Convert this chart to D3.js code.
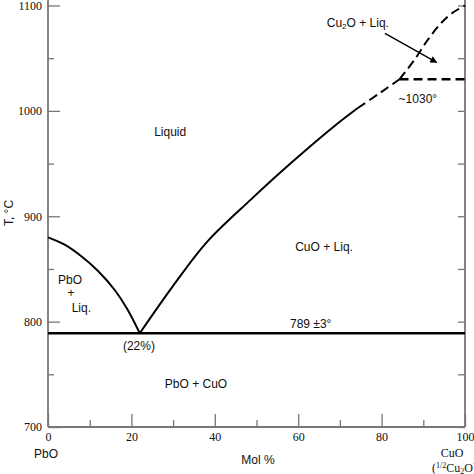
<!DOCTYPE html>
<html>
<head>
<meta charset="utf-8">
<script src="https://cdn.jsdelivr.net/npm/d3@7"></script>
<style>
  body { margin: 0; background: #fff; }
  svg { display: block; }
  .lbl { font-family: "Liberation Sans", Arial, sans-serif; font-size: 12px; fill: #111; }
</style>
</head>
<body>
<div id="chart"></div>
<script>
// PbO - CuO phase diagram

var xMajor = [0, 20, 40, 60, 80, 100];
var xMinor = [10, 30, 50, 70, 90];
var yMajor = [700, 800, 900, 1000, 1100];
var yMinor = [750, 850, 950, 1050];

// liquidus on the PbO side
var pboLiquidus = [[0, 880], [4, 873], [8, 862], [12, 848], [16, 830], [19, 812], [22, 789]];
// liquidus on the CuO side (solid part, then dashed part)
var cuoLiquidus = [[22, 789], [30, 834], [38.1, 875.5], [48.7, 916], [58, 949.5], [69.3, 987.5], [74.3, 1002.7]];
var cuoLiquidusDashed = [[74.3, 1002.7], [79.6, 1017], [84.3, 1030]];
// Cu2O liquidus (dashed)
var cu2oLiquidus = [[84.3, 1030], [87.8, 1048], [91, 1067], [94.2, 1083], [97, 1093], [100, 1100]];
var peritectic = [[84.3, 1030], [100, 1030]];
var eutectic = [[0, 789], [100, 789]];
var arrow = [[80.8, 1073.5], [93.2, 1046]];

var width = 474, height = 474;
var margin = {left: 48, right: 9, top: 5.5, bottom: 47};

var svg = d3.select('#chart').append('svg')
    .attr('width', width)
    .attr('height', height);

var x = d3.scaleLinear().domain([0, 100]).range([margin.left, width - margin.right]);
var y = d3.scaleLinear().domain([700, 1100]).range([height - margin.bottom, margin.top]);

var axisColor = '#777';
var serif = '"Liberation Serif", "Times New Roman", serif';

// axes, ticks pointing inward
function styleAxis(g) {
  g.attr('font-family', serif).attr('font-size', 12);
  g.select('.domain').remove();
  g.selectAll('.tick line').attr('stroke', axisColor).attr('stroke-width', 1.3);
  g.selectAll('.tick text').attr('fill', '#111').style('font-family', serif);
}

svg.append('g')
    .attr('transform', `translate(${x(0)},0)`)
    .call(d3.axisLeft(y).tickValues(yMajor).tickSize(-12).tickPadding(6).tickFormat(d3.format('d')))
    .call(styleAxis);
svg.append('g')
    .attr('transform', `translate(${x(0)},0)`)
    .call(d3.axisLeft(y).tickValues(yMinor).tickSize(-6).tickFormat(''))
    .call(styleAxis);
svg.append('g')
    .attr('transform', `translate(${x(100)},0)`)
    .call(d3.axisRight(y).tickValues(yMajor.concat(yMinor)).tickSize(-7).tickFormat(''))
    .call(styleAxis);
svg.append('g')
    .attr('transform', `translate(0,${y(700)})`)
    .call(d3.axisBottom(x).tickValues(xMajor).tickSize(-13).tickPadding(5).tickFormat(d3.format('d')))
    .call(styleAxis);
svg.append('g')
    .attr('transform', `translate(0,${y(700)})`)
    .call(d3.axisBottom(x).tickValues(xMinor).tickSize(-7).tickFormat(''))
    .call(styleAxis);

// frame lines
svg.append('line').attr('x1', x(0)).attr('x2', x(0)).attr('y1', 0).attr('y2', y(700))
    .attr('stroke', axisColor).attr('stroke-width', 1.8);
svg.append('line').attr('x1', x(100)).attr('x2', x(100)).attr('y1', 0).attr('y2', y(700))
    .attr('stroke', axisColor).attr('stroke-width', 1.8);
svg.append('line').attr('x1', x(0)).attr('x2', x(100)).attr('y1', y(700)).attr('y2', y(700))
    .attr('stroke', axisColor).attr('stroke-width', 1.8);

var line = d3.line().x(d => x(d[0])).y(d => y(d[1])).curve(d3.curveCatmullRom);
var straight = d3.line().x(d => x(d[0])).y(d => y(d[1]));

function drawPath(data, gen, w, dash) {
  svg.append('path')
      .datum(data)
      .attr('d', gen)
      .attr('fill', 'none')
      .attr('stroke', '#000')
      .attr('stroke-width', w)
      .attr('stroke-dasharray', dash || null);
}

drawPath(eutectic, straight, 2.4);
drawPath(pboLiquidus, line, 2);
drawPath(cuoLiquidus, line, 2);
drawPath(cuoLiquidusDashed, line, 2, '9,5');
drawPath(cu2oLiquidus, line, 2, '9,5');
drawPath(peritectic, straight, 2.6, '9,5');

// arrow
svg.append('defs').append('marker')
    .attr('id', 'head')
    .attr('viewBox', '0 0 10 10')
    .attr('refX', 9).attr('refY', 5)
    .attr('markerWidth', 9).attr('markerHeight', 7)
    .attr('markerUnits', 'userSpaceOnUse')
    .attr('orient', 'auto')
  .append('path')
    .attr('d', 'M0,0L10,5L0,10Z')
    .attr('fill', '#000');

svg.append('path')
    .datum(arrow)
    .attr('d', straight)
    .attr('stroke', '#000')
    .attr('stroke-width', 1.4)
    .attr('marker-end', 'url(#head)');

// region labels (data coordinates)
var labels = [
  {t: 'Liquid', x: 29.3, y: 980},
  {t: 'CuO + Liq.', x: 66.2, y: 871},
  {t: '~1030°', x: 88.7, y: 1011},
  {t: 'PbO', x: 5.3, y: 839.5},
  {t: '+', x: 5.5, y: 827},
  {t: 'Liq.', x: 8, y: 813},
  {t: '(22%)', x: 21.8, y: 777},
  {t: '789 ±3°', x: 63, y: 798},
  {t: 'PbO + CuO', x: 35.5, y: 741}
];

svg.selectAll('text.region')
    .data(labels)
  .enter().append('text')
    .attr('class', 'lbl region')
    .attr('x', d => x(d.x))
    .attr('y', d => y(d.y))
    .attr('dy', '0.35em')
    .attr('text-anchor', 'middle')
    .text(d => d.t);

var cu2o = svg.append('text').attr('class', 'lbl')
    .attr('x', x(74.3)).attr('y', y(1084)).attr('dy', '0.35em')
    .attr('text-anchor', 'middle');
cu2o.append('tspan').text('Cu');
cu2o.append('tspan').attr('font-size', '8px').attr('dy', '2').text('2');
cu2o.append('tspan').attr('dy', '-2').text('O + Liq.');

// axis titles
svg.append('text').attr('class', 'lbl')
    .attr('transform', 'translate(13,213) rotate(-90)')
    .attr('text-anchor', 'middle')
    .attr('font-size', '13px')
    .text('T, °C');

svg.append('text').attr('class', 'lbl')
    .attr('x', 258).attr('y', 460).attr('dy', '0.35em')
    .attr('text-anchor', 'middle')
    .attr('font-size', '13px')
    .text('Mol %');

svg.append('text').attr('class', 'lbl')
    .attr('x', 46).attr('y', 454).attr('dy', '0.35em')
    .attr('text-anchor', 'middle')
    .text('PbO');

// component labels on the right, in the serif face
var cuo = svg.append('text').attr('class', 'lbl')
    .attr('x', 452).attr('y', 453).attr('dy', '0.35em')
    .attr('text-anchor', 'middle')
    .style('font-family', serif)
    .attr('font-size', '13px')
    .text('CuO');

var half = svg.append('text').attr('class', 'lbl')
    .attr('x', 432).attr('y', 468).attr('dy', '0.35em')
    .style('font-family', serif)
    .attr('font-size', '13px');
half.append('tspan').text('(');
half.append('tspan').attr('font-size', '8px').attr('dy', '-4').text('1/2');
half.append('tspan').attr('dy', '4').text('Cu');
half.append('tspan').attr('font-size', '8px').attr('dy', '2').text('2');
half.append('tspan').attr('dy', '-2').text('O)');
</script>
</body>
</html>
